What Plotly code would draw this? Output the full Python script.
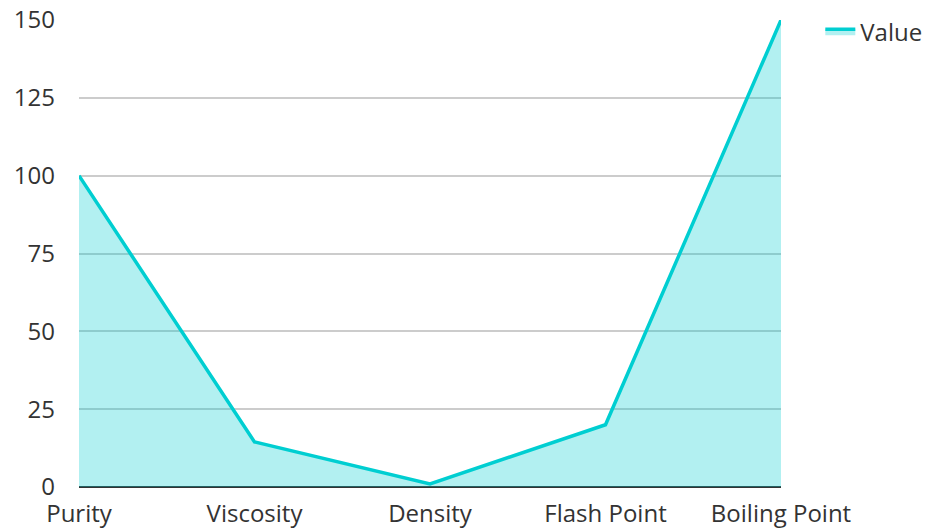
import plotly.graph_objects as go

categories = ["Purity", "Viscosity", "Density", "Flash Point", "Boiling Point"]
values = [100, 14.5, 1, 20, 150]
y_ticks = [0, 25, 50, 75, 100, 125, 150]

fig = go.Figure()
fig.add_trace(go.Scatter(
    x=categories, y=values, name="Value", mode="lines",
    line=dict(color="#00CED1", width=3.5),
    fill="tozeroy", fillcolor="rgba(0,206,209,0.3)",
))

fig.update_layout(
    width=930, height=529,
    margin=dict(l=71, r=157, t=12, b=50, autoexpand=False),
    paper_bgcolor="white", plot_bgcolor="white",
    font=dict(family="Open Sans", size=24, color="#333333"),
    showlegend=True,
    legend=dict(x=1.056, y=1.023, xanchor="left", yanchor="top",
                font=dict(size=24, color="#333333")),
    xaxis=dict(range=[0, 4], showgrid=False, zeroline=False, automargin=False,
               showline=False, ticks="", tickfont=dict(size=24),
               ticklabelstandoff=10, ticklabeloverflow="allow"),
    yaxis=dict(range=[0, 150], tickvals=y_ticks, showgrid=True, automargin=False,
               gridcolor="#cccccc", gridwidth=1.5, zeroline=True,
               zerolinecolor="#333333", zerolinewidth=2,
               showline=False, ticks="", tickfont=dict(size=24),
               ticklabelstandoff=23, ticklabeloverflow="allow"),
)

fig.write_html("out.html")
